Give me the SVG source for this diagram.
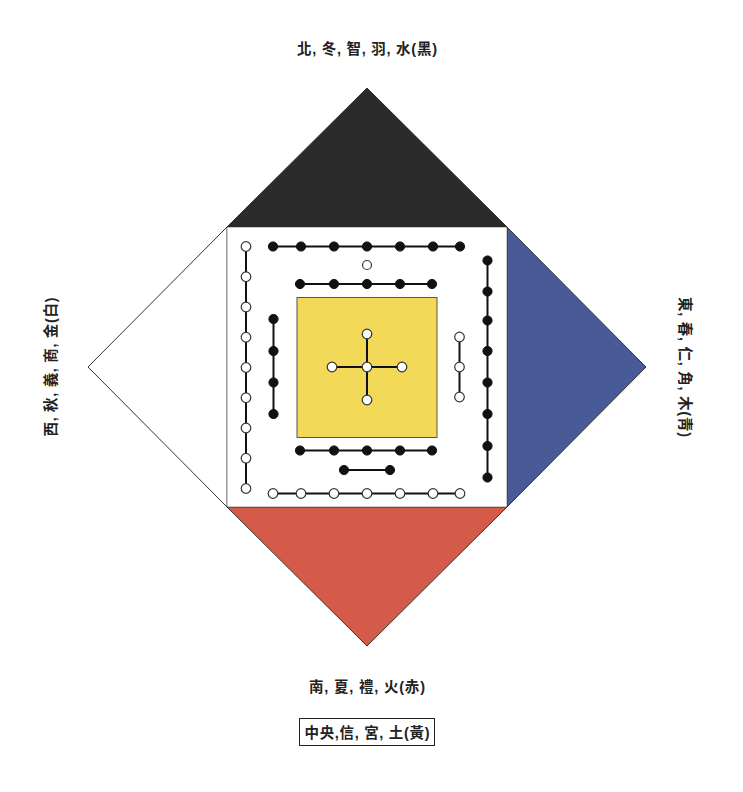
<svg xmlns="http://www.w3.org/2000/svg" width="743" height="792" viewBox="0 0 743 792">
<style>
.lbl{font-family:"Liberation Sans","Noto Sans CJK TC",sans-serif;font-size:14.5px;font-weight:bold;fill:#222;text-anchor:middle}
.ln{stroke:#111;stroke-width:2;fill:none}
.b{fill:#111;stroke:#111;stroke-width:1}
.w{fill:#fff;stroke:#333;stroke-width:1.2}
</style>
<rect width="743" height="792" fill="#fff"/>
<g id="north"><polygon points="227,227 367,88 507,227" fill="#2b2b2b" stroke="#2b2b2b" stroke-width="1"/></g>
<g id="east"><polygon points="507,227 646,367 507,507" fill="#485b97" stroke="#333" stroke-width="1"/></g>
<g id="south"><polygon points="227,507 367,646 507,507" fill="#d45a4a" stroke="#333" stroke-width="1"/></g>
<g id="west"><polygon points="227,227 88,367 227,507" fill="#fff" stroke="#333" stroke-width="1"/></g>
<g id="square"><rect x="227.5" y="227.5" width="279" height="279" fill="#fff"/></g>
<g id="center"><rect x="297" y="297.5" width="140" height="140" fill="#f2d958" stroke="#555" stroke-width="1"/></g>
<g id="connectors">
<line class="ln" x1="273" y1="246.5" x2="460" y2="246.5"/>
<line class="ln" x1="300" y1="284" x2="432" y2="284"/>
<line class="ln" x1="367" y1="334" x2="367" y2="400"/>
<line class="ln" x1="332" y1="367" x2="402" y2="367"/>
<line class="ln" x1="273.5" y1="319" x2="273.5" y2="414"/>
<line class="ln" x1="459.5" y1="337" x2="459.5" y2="397"/>
<line class="ln" x1="300" y1="450.5" x2="432" y2="450.5"/>
<line class="ln" x1="344" y1="470" x2="390" y2="470"/>
<line class="ln" x1="273" y1="493.5" x2="460" y2="493.5"/>
<line class="ln" x1="246" y1="246.5" x2="246" y2="488.5"/>
<line class="ln" x1="487.5" y1="260.5" x2="487.5" y2="477.5"/>
</g>
<g id="north-dots">
<circle class="b" cx="273" cy="246.5" r="4.6"/><circle class="b" cx="301" cy="246.5" r="4.6"/><circle class="b" cx="334" cy="246.5" r="4.6"/><circle class="b" cx="367" cy="246.5" r="4.6"/><circle class="b" cx="400" cy="246.5" r="4.6"/><circle class="b" cx="433" cy="246.5" r="4.6"/><circle class="b" cx="460" cy="246.5" r="4.6"/>
<circle class="w" cx="367" cy="265" r="4.5"/>
</g>
<g id="north-inner-dots">
<circle class="b" cx="300" cy="284" r="4.6"/><circle class="b" cx="334" cy="284" r="4.6"/><circle class="b" cx="367" cy="284" r="4.6"/><circle class="b" cx="400" cy="284" r="4.6"/><circle class="b" cx="432" cy="284" r="4.6"/>
</g>
<g id="center-dots">
<circle class="w" cx="367" cy="334" r="4.8"/><circle class="w" cx="367" cy="400" r="4.8"/><circle class="w" cx="332" cy="367" r="4.8"/><circle class="w" cx="402" cy="367" r="4.8"/><circle class="w" cx="367" cy="367" r="4.8"/>
</g>
<g id="west-inner-dots">
<circle class="b" cx="273.5" cy="319" r="4.6"/><circle class="b" cx="273.5" cy="351" r="4.6"/><circle class="b" cx="273.5" cy="382.5" r="4.6"/><circle class="b" cx="273.5" cy="414" r="4.6"/>
</g>
<g id="east-inner-dots">
<circle class="w" cx="459.5" cy="337" r="4.8"/><circle class="w" cx="459.5" cy="367" r="4.8"/><circle class="w" cx="459.5" cy="397" r="4.8"/>
</g>
<g id="south-inner-dots">
<circle class="b" cx="300" cy="450.5" r="4.6"/><circle class="b" cx="334" cy="450.5" r="4.6"/><circle class="b" cx="367" cy="450.5" r="4.6"/><circle class="b" cx="400" cy="450.5" r="4.6"/><circle class="b" cx="432" cy="450.5" r="4.6"/>
<circle class="b" cx="344" cy="470" r="4.6"/><circle class="b" cx="390" cy="470" r="4.6"/>
</g>
<g id="south-dots">
<circle class="w" cx="273" cy="493.5" r="4.8"/><circle class="w" cx="301" cy="493.5" r="4.8"/><circle class="w" cx="334" cy="493.5" r="4.8"/><circle class="w" cx="367" cy="493.5" r="4.8"/><circle class="w" cx="400" cy="493.5" r="4.8"/><circle class="w" cx="433" cy="493.5" r="4.8"/><circle class="w" cx="460" cy="493.5" r="4.8"/>
</g>
<g id="west-dots">
<circle class="w" cx="246" cy="246.5" r="4.8"/><circle class="w" cx="246" cy="276.7" r="4.8"/><circle class="w" cx="246" cy="307" r="4.8"/><circle class="w" cx="246" cy="337.2" r="4.8"/><circle class="w" cx="246" cy="367.5" r="4.8"/><circle class="w" cx="246" cy="397.7" r="4.8"/><circle class="w" cx="246" cy="428" r="4.8"/><circle class="w" cx="246" cy="458.2" r="4.8"/><circle class="w" cx="246" cy="488.5" r="4.8"/>
</g>
<g id="east-dots">
<circle class="b" cx="487.5" cy="260.5" r="4.6"/><circle class="b" cx="487.5" cy="291.5" r="4.6"/><circle class="b" cx="487.5" cy="320.5" r="4.6"/><circle class="b" cx="487.5" cy="351" r="4.6"/><circle class="b" cx="487.5" cy="382.5" r="4.6"/><circle class="b" cx="487.5" cy="414" r="4.6"/><circle class="b" cx="487.5" cy="446" r="4.6"/><circle class="b" cx="487.5" cy="477.5" r="4.6"/>
</g>
<g id="labels">
<text class="lbl" x="367" y="54" textLength="140" lengthAdjust="spacing">北, 冬, 智, 羽, 水(黑)</text>
<text class="lbl" transform="translate(51,367) rotate(-90)" x="0" y="5" textLength="139" lengthAdjust="spacing">西, 秋, 義, 商, 金(白)</text>
<text class="lbl" transform="translate(685,367) rotate(90)" x="0" y="5" textLength="140" lengthAdjust="spacing">東, 春, 仁, 角, 木(靑)</text>
<text class="lbl" x="367" y="692" textLength="116" lengthAdjust="spacing">南, 夏, 禮, 火(赤)</text>
</g>
<g id="center-label">
<rect x="299.5" y="718.5" width="135" height="27" fill="#fff" stroke="#222" stroke-width="1"/>
<text class="lbl" x="367" y="738" textLength="125" lengthAdjust="spacing">中央,信, 宮, 土(黃)</text>
</g>
</svg>
